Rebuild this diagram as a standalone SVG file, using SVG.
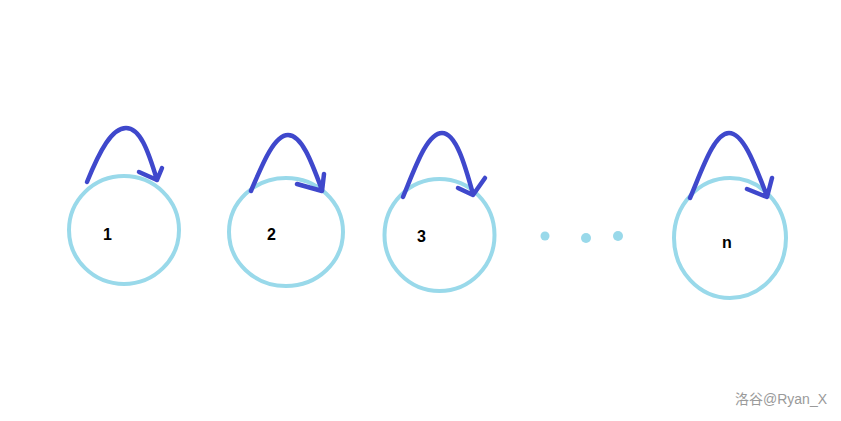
<svg xmlns="http://www.w3.org/2000/svg" width="841" height="421" viewBox="0 0 841 421">
<style>
.c{fill:none;stroke:#99d9ea;stroke-width:4}
.a{fill:none;stroke:#3f48cc;stroke-width:4.5;stroke-linecap:round;stroke-linejoin:round}
.l{font-family:"Liberation Sans",Arial,sans-serif;font-weight:bold;font-size:16px;fill:#000}
.d{fill:#99d9ea}
</style>
<rect width="841" height="421" fill="#fff"/>
<g id="node1"><ellipse class="c" cx="124" cy="230" rx="55" ry="54"/><text class="l" x="103" y="240">1</text></g>
<g id="node2"><ellipse class="c" cx="286" cy="232" rx="57" ry="54"/><text class="l" x="267" y="240">2</text></g>
<g id="node3"><ellipse class="c" cx="439.5" cy="235" rx="55" ry="56"/><text class="l" x="417" y="242">3</text></g>
<g id="noden"><ellipse class="c" cx="730" cy="238" rx="56" ry="60"/><text class="l" x="722" y="248">n</text></g>
<g id="dots"><circle class="d" cx="545" cy="236" r="4.5"/><circle class="d" cx="586" cy="238" r="5"/><circle class="d" cx="618" cy="236" r="5"/></g>
<g id="connectors">
<path class="a" d="M87,182 C100,150 112,128 126,128 C140,128 148,150 157,180 M139,172 L157,180 L162,168"/>
<path class="a" d="M251,191 C262,165 274,135 288,135 C302,135 312,163 322,190 M297,184 L322,191 L324,174"/>
<path class="a" d="M403,197 C415,168 427,133 442,133 C456,133 465,165 473,194 M458,188 L473,195 L485,178"/>
<path class="a" d="M690,198 C702,170 714,133 729,133 C744,133 756,168 767,196 M747,189 L767,197 L772,178"/>
</g>
<text x="735" y="404" font-family="'Liberation Sans','Noto Sans CJK SC',sans-serif" font-size="14" fill="#9a9a9a">洛谷@Ryan_X</text>
</svg>
